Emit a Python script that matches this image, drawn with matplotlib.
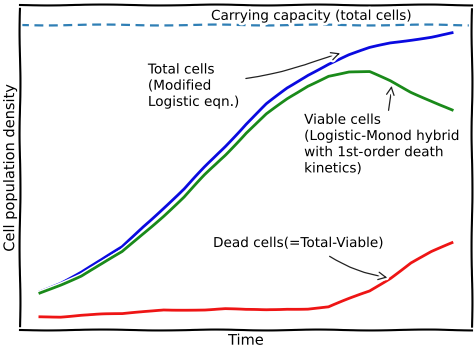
import matplotlib
matplotlib.use('Agg')
import matplotlib.pyplot as plt
import numpy as np

# time axis (arbitrary units) and population densities, capacity = 1
time = [0, 0.5, 1, 1.5, 2, 2.5, 3, 3.5, 4, 4.5, 5, 5.5, 6, 6.5, 7, 7.5, 8, 8.5, 9, 9.5, 10]
total = [0.125, 0.154, 0.190, 0.230, 0.272, 0.338, 0.400, 0.462, 0.534, 0.603, 0.675,
         0.741, 0.793, 0.836, 0.872, 0.902, 0.925, 0.941, 0.951, 0.961, 0.974]
viable = [0.121, 0.148, 0.177, 0.216, 0.256, 0.315, 0.374, 0.436, 0.508, 0.574, 0.646,
          0.708, 0.757, 0.800, 0.833, 0.846, 0.846, 0.816, 0.780, 0.751, 0.721]
dead = [0.043, 0.043, 0.049, 0.052, 0.052, 0.059, 0.066, 0.066, 0.066, 0.069, 0.066,
        0.066, 0.069, 0.069, 0.075, 0.102, 0.128, 0.170, 0.220, 0.256, 0.285]
capacity = 1.0

with plt.xkcd(scale=0.45, length=120, randomness=2):
    plt.rcParams['font.family'] = ['DejaVu Sans']
    fig = plt.figure(figsize=(4.74, 3.48), dpi=100)
    ax = fig.add_axes([0.042, 0.052, 0.954, 0.934])

    ax.axhline(capacity, color='#2f7fb5', lw=1.6, ls=(0, (4, 2.5)))
    ax.plot(time, total, color='#0a0ae0', lw=2)
    ax.plot(time, viable, color='#1a8a1a', lw=2)
    ax.plot(time, dead, color='#ee1515', lw=2)

    ax.set_xlim(-0.485, 10.485)
    ax.set_ylim(0, 1.066)
    ax.set_xticks([])
    ax.set_yticks([])

    fs = 9.8
    ax.text(6.6, 1.03, 'Carrying capacity (total cells)', ha='center', va='center', fontsize=fs)
    ax.text(2.62, 0.877, 'Total cells\n(Modified\nLogistic eqn.)', ha='left', va='top',
            fontsize=fs, linespacing=1.2)
    ax.annotate('', xy=(7.35, 0.911), xytext=(4.93, 0.823),
                arrowprops=dict(arrowstyle='->', color='#222222', lw=0.9,
                                connectionstyle='arc3,rad=0.05'))
    ax.text(6.41, 0.712, 'Viable cells\n(Logistic-Monod hybrid\nwith 1st-order death\nkinetics)',
            ha='left', va='top', fontsize=fs, linespacing=1.2)
    ax.annotate('', xy=(8.54, 0.81), xytext=(8.45, 0.711),
                arrowprops=dict(arrowstyle='->', color='#222222', lw=0.9))
    ax.text(4.2, 0.285, 'Dead cells(=Total-Viable)', ha='left', va='center', fontsize=fs)
    ax.annotate('', xy=(8.5, 0.17), xytext=(6.97, 0.246),
                arrowprops=dict(arrowstyle='->', color='#222222', lw=0.9,
                                connectionstyle='arc3,rad=0.1'))

    ax.set_xlabel('Time', fontsize=10.5, labelpad=2)
    ax.set_ylabel('Cell population density', fontsize=10.5, labelpad=2)

    fig.savefig('out.png', dpi=100)
